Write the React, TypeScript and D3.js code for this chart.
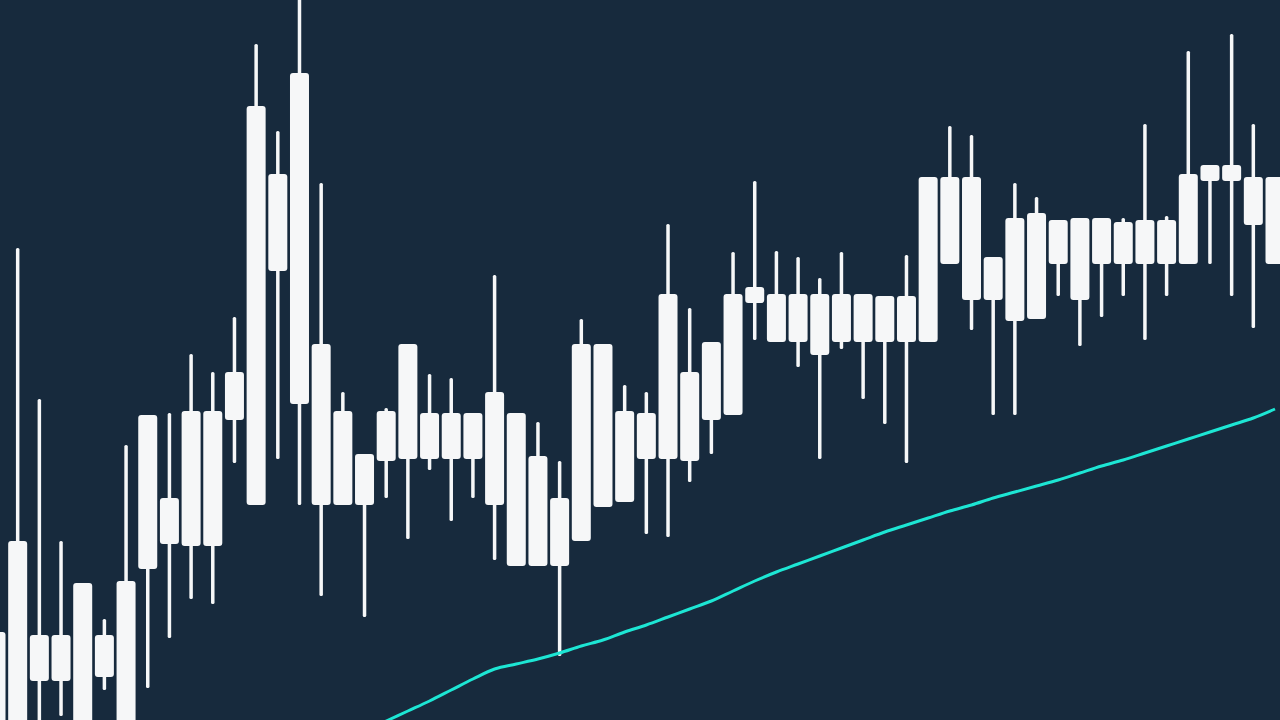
import { useEffect, useRef } from 'react';
import * as d3 from 'd3';

// OHLC per session (price units) left to right
const opens = [
  99.5, 99.5, 103.9, 103.9, 99.5, 104.3, 99.5, 115.1, 117.6, 117.4,
  130.9, 130.0, 121.5, 154.6, 131.6, 121.5, 130.9, 121.5, 130.9, 126.1,
  130.7, 126.1, 130.7, 121.5, 130.7, 115.4, 115.4, 117.9, 137.6, 130.9,
  126.1, 126.1, 125.9, 137.8, 130.5, 143.3, 137.8, 142.6, 136.5, 137.8,
  142.6, 137.8, 137.8, 137.8, 154.3, 142.0, 146.3, 139.9, 140.1, 145.6,
  150.2, 145.6, 149.8, 145.6, 150.0, 145.6, 155.5, 153.9, 149.5, 154.3,
];
const closes = [
  108.8, 117.9, 108.5, 108.5, 113.7, 108.5, 113.9, 130.5, 122.2, 130.9,
  117.4, 134.8, 161.4, 144.9, 164.7, 137.6, 121.5, 126.6, 125.9, 137.6,
  126.1, 130.7, 126.1, 132.8, 115.4, 126.4, 122.2, 137.6, 121.3, 121.8,
  130.7, 142.6, 134.8, 130.0, 142.6, 141.7, 142.6, 137.8, 142.6, 142.6,
  137.8, 142.4, 142.4, 154.3, 145.6, 154.3, 142.0, 150.2, 150.7, 150.0,
  142.0, 150.2, 145.6, 150.0, 145.6, 154.6, 153.9, 155.5, 154.3, 145.6,
];
const highs = [
  110.0, 147.2, 132.1, 117.9, 113.7, 110.1, 127.5, 130.5, 130.7, 136.6,
  134.8, 140.3, 167.6, 158.9, 172.5, 153.7, 132.8, 126.6, 131.2, 137.6,
  134.6, 134.2, 130.7, 144.5, 130.7, 129.8, 125.9, 140.1, 137.6, 133.5,
  132.8, 149.6, 141.2, 137.8, 146.8, 153.9, 146.9, 146.3, 144.2, 146.8,
  142.6, 142.4, 146.5, 154.3, 159.4, 158.5, 146.3, 153.7, 152.3, 150.0,
  150.2, 150.2, 150.2, 159.6, 150.4, 166.9, 155.5, 168.6, 159.6, 154.3,
];
const lows = [
  99.0, 99.0, 99.0, 100.4, 99.0, 103.0, 99.0, 103.2, 108.2, 112.1,
  111.6, 125.7, 121.5, 126.1, 121.5, 112.4, 121.5, 110.3, 122.2, 118.1,
  125.0, 119.9, 122.2, 116.0, 115.4, 115.4, 106.4, 117.9, 121.3, 121.8,
  118.6, 118.3, 123.8, 126.6, 130.5, 138.0, 137.8, 135.3, 126.1, 137.1,
  132.1, 129.6, 125.7, 137.8, 145.6, 139.0, 130.5, 130.5, 140.1, 142.4,
  137.4, 140.3, 142.4, 138.0, 142.4, 145.6, 145.6, 142.4, 139.2, 145.6,
];

// slow moving average, first value belongs to session 17
const maStart = 17;
const maValues = [
  98.9, 99.9, 100.9, 101.9, 103.0, 104.1, 105.1, 105.6, 106.1, 106.7,
  107.4, 108.0, 108.8, 109.5, 110.3, 111.1, 111.9, 112.9, 113.9, 114.8,
  115.6, 116.4, 117.2, 118.0, 118.8, 119.5, 120.2, 120.9, 121.5, 122.2,
  122.8, 123.4, 124.0, 124.7, 125.4, 126.0, 126.7, 127.4, 128.1, 128.8,
  129.5, 130.2, 131.1,
];

export default function App() {
  const ref = useRef<HTMLDivElement>(null);

  useEffect(() => {
    if (!ref.current) return;
    d3.select(ref.current).selectAll('*').remove();

    const width = 1280;
    const height = 720;

    const svg = d3.select(ref.current)
      .append('svg')
      .attr('width', width)
      .attr('height', height)
      .style('display', 'block');

    svg.append('rect')
      .attr('width', width)
      .attr('height', height)
      .attr('fill', '#172a3d');

    const x = d3.scaleLinear()
      .domain([0, opens.length - 1])
      .range([-4, 1275]);

    const y = d3.scaleLinear()
      .domain([100, 172])
      .range([height, 0]);

    const bodyW = 19;
    const wickW = 3.5;

    const idx = d3.range(opens.length);

    // wicks
    svg.append('g')
      .selectAll('rect')
      .data(idx)
      .enter()
      .append('rect')
      .attr('x', i => x(i) - wickW / 2)
      .attr('y', i => y(highs[i]))
      .attr('width', wickW)
      .attr('height', i => y(lows[i]) - y(highs[i]))
      .attr('rx', 1.5)
      .attr('fill', '#f6f7f8');

    // bodies
    svg.append('g')
      .selectAll('rect')
      .data(idx)
      .enter()
      .append('rect')
      .attr('x', i => x(i) - bodyW / 2)
      .attr('y', i => y(Math.max(opens[i], closes[i])))
      .attr('width', bodyW)
      .attr('height', i => Math.max(2, Math.abs(y(opens[i]) - y(closes[i]))))
      .attr('rx', 3)
      .attr('fill', '#f6f7f8');

    // moving average
    const line = d3.line<number>()
      .x((_, i) => x(i + maStart))
      .y(d => y(d))
      .curve(d3.curveMonotoneX);

    svg.append('path')
      .datum(maValues)
      .attr('fill', 'none')
      .attr('stroke', '#1de6d4')
      .attr('stroke-width', 3)
      .attr('d', line);
  }, []);

  return (
    <div
      ref={ref}
      style={{ position: 'fixed', left: 0, top: 0, width: 1280, height: 720, background: '#172a3d' }}
    />
  );
}
